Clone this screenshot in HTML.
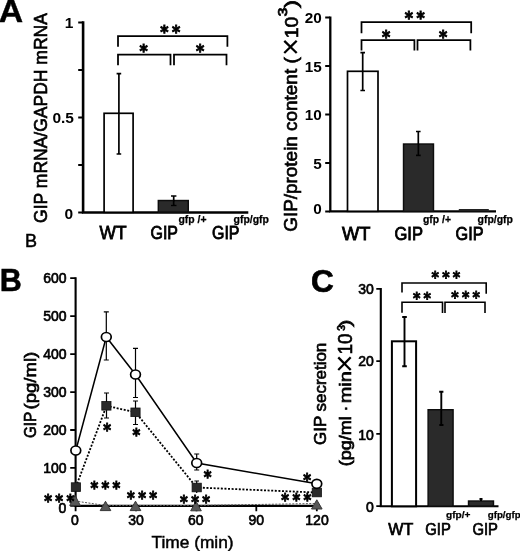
<!DOCTYPE html>
<html>
<head>
<meta charset="utf-8">
<title>GIP figure</title>
<style>
html,body{margin:0;padding:0;background:#fff;}
svg{display:block;}
#fig{filter:url(#soft);}
text{font-family:"Liberation Sans",sans-serif;fill:#000;}
.pl{font-weight:bold;font-size:29px;}
.tk{font-size:14px;font-weight:bold;}
.xl{font-size:17.5px;stroke:#000;stroke-width:0.8px;}
.xc{font-size:16px;stroke:#000;stroke-width:0.7px;}
.rl{stroke:#000;stroke-width:0.65px;}
.sup{font-weight:bold;font-size:10.5px;stroke:#000;stroke-width:0.25px;}
.st{font-family:"DejaVu Sans",sans-serif;font-weight:bold;font-size:17.5px;letter-spacing:3.96px;stroke:#000;stroke-width:0.9px;}
.ax{stroke:#000;stroke-width:2.6;fill:none;}
.tkm{stroke:#000;stroke-width:2.0;fill:none;}
.br{stroke:#000;stroke-width:1.75;fill:none;}
.eb{stroke:#000;stroke-width:1.7;fill:none;}
.wb{fill:#fff;stroke:#000;stroke-width:1.7;}
.db{fill:#2b2b2b;stroke:#0a0a0a;stroke-width:1.4;}
#pA2 .ax{stroke-width:2.3;}
#pB .ax,#pC .ax{stroke-width:2.1;}
#pB .tkm,#pC .tkm{stroke-width:1.8;}
#pB .eb{stroke-width:1.2;}
#pC .eb{stroke-width:1.9;}
#pC .wb{stroke-width:2;}
#pC .br{stroke-width:1.6;}
#pB .tk,#pC .tk{font-weight:normal;stroke:#000;stroke-width:0.65px;}
#pB .rl,#pC .rl{stroke-width:0.65px;}
</style>
</head>
<body>
<svg width="520" height="551" viewBox="0 0 520 551">
<defs><filter id="soft" x="0" y="0" width="520" height="551" filterUnits="userSpaceOnUse"><feGaussianBlur stdDeviation="0.3"/></filter></defs>
<rect width="520" height="551" fill="#fff"/>
<g id="fig">
<rect x="-5" y="-5" width="530" height="561" fill="#fff"/>

<g id="pA1">
<text class="pl" x="-1.3" y="21.9" style="font-size:32px" stroke="#000" stroke-width="0.4" textLength="24.4" lengthAdjust="spacingAndGlyphs">A</text>
<text class="rl" transform="translate(47.2,222.9) rotate(-90)" style="font-size:18px" textLength="209.8" lengthAdjust="spacingAndGlyphs">GIP mRNA/GAPDH mRNA</text>
<path class="ax" d="M83.1 21.3V212.5H248.3"/>
<path class="tkm" d="M78.2 22.5H83M78.2 70H83M78.2 117.4H83M78.2 164.9H83M78.2 212.4H83"/>
<text class="tk" x="73.3" y="28.3" text-anchor="end" style="font-size:15.5px">1</text>
<text class="tk" x="74" y="122.8" text-anchor="end" style="font-size:15.5px">0.5</text>
<text class="tk" x="73" y="218.9" text-anchor="end" style="font-size:15.5px">0</text>
<rect class="wb" x="104.1" y="113.3" width="29" height="99"/>
<path class="eb" d="M118.9 73.7V154M116.6 73.7H121.2M116.6 154H121.2"/>
<rect class="db" x="158.3" y="200.5" width="30" height="11.5"/>
<path class="eb" d="M173.7 196V205.5M171 196H176.4M171 205.5H176.4"/>
<path class="br" d="M118 46.8V36H227.4V46.8"/>
<path class="br" d="M118 65.3V54.6H170.5V65.3"/>
<path class="br" d="M174 65.3V54.6H226.5V65.3"/>
<text class="st" transform="translate(160.28,38.17) scale(0.9,1.05)">**</text>
<text class="st" transform="translate(139.38,56.77) scale(0.9,1.05)">*</text>
<text class="st" transform="translate(195.88,56.77) scale(0.9,1.05)">*</text>
<text class="xl" x="99.5" y="239" textLength="27" lengthAdjust="spacingAndGlyphs">WT</text>
<text class="xl" x="150.5" y="239" textLength="27.5" lengthAdjust="spacingAndGlyphs">GIP</text>
<text class="sup" x="178.5" y="223" textLength="28" lengthAdjust="spacingAndGlyphs">gfp /+</text>
<text class="xl" x="212" y="239" textLength="27.5" lengthAdjust="spacingAndGlyphs">GIP</text>
<text class="sup" x="233.5" y="223" textLength="35.5" lengthAdjust="spacingAndGlyphs">gfp/gfp</text>
<text x="25" y="247" style="font-size:18px" stroke="#000" stroke-width="0.5">B</text>
</g>
<g id="pA2">
<g transform="translate(297.2,231.8) rotate(-90)">
<text class="rl" x="0" y="0" style="font-size:18px" textLength="174.5" lengthAdjust="spacingAndGlyphs">GIP/protein content (</text>
<text x="175.8" y="3.9" style="font-size:31px">×</text>
<text class="rl" x="193.6" y="0.8" style="font-size:19px" textLength="21.5" lengthAdjust="spacingAndGlyphs">10</text>
<text class="rl" x="215.6" y="-4.7" style="font-size:23px" textLength="8.6" lengthAdjust="spacingAndGlyphs">³</text>
<text class="rl" x="223.6" y="0" style="font-size:18px" textLength="8.5" lengthAdjust="spacingAndGlyphs">)</text>
</g>
<path class="ax" d="M330.3 16.6V211.4H496"/>
<path class="tkm" d="M325.2 17.5H330M325.2 66H330M325.2 114.5H330M325.2 163H330M325.2 211.4H330"/>
<text class="tk" x="321.7" y="23" text-anchor="end" style="font-size:15.3px">20</text>
<text class="tk" x="321.7" y="71.5" text-anchor="end" style="font-size:15.3px">15</text>
<text class="tk" x="321.7" y="120" text-anchor="end" style="font-size:15.3px">10</text>
<text class="tk" x="321.7" y="168.5" text-anchor="end" style="font-size:15.3px">5</text>
<text class="tk" x="321.7" y="214.3" text-anchor="end" style="font-size:15.3px">0</text>
<rect class="wb" x="347.5" y="71.3" width="30.5" height="140"/>
<path class="eb" d="M362.7 52.7V90.5M360.4 52.7H365M360.4 90.5H365"/>
<rect class="db" x="403.5" y="144" width="30" height="67.4"/>
<path class="eb" d="M418.3 131.5V155.3M416 131.5H420.6M416 155.3H420.6"/>
<rect x="458.8" y="209" width="30" height="2.5" fill="#222"/>
<path class="br" d="M361.5 33.2V22.2H471.2V33.2"/>
<path class="br" d="M361.5 50.5V40H414.4V50.5"/>
<path class="br" d="M417.5 50.5V40H470.4V50.5"/>
<text class="st" transform="translate(404.78,23.97) scale(0.9,1.05)">**</text>
<text class="st" transform="translate(382.08,42.57) scale(0.9,1.05)">*</text>
<text class="st" transform="translate(438.88,42.57) scale(0.9,1.05)">*</text>
<text class="xl" x="342" y="240" textLength="28.5" lengthAdjust="spacingAndGlyphs">WT</text>
<text class="xl" x="394.5" y="240" textLength="28.5" lengthAdjust="spacingAndGlyphs">GIP</text>
<text class="sup" x="423" y="223" textLength="28" lengthAdjust="spacingAndGlyphs">gfp /+</text>
<text class="xl" x="455.5" y="240" textLength="28" lengthAdjust="spacingAndGlyphs">GIP</text>
<text class="sup" x="477.5" y="223" textLength="35.5" lengthAdjust="spacingAndGlyphs">gfp/gfp</text>
</g>
<g id="pB">
<text class="pl" x="-0.2" y="291.4" style="font-size:30.5px" stroke="#000" stroke-width="0.5">B</text>
<g transform="translate(35.5,437.7) rotate(-90)">
<text class="rl" x="-0.4" y="0" style="font-size:16.5px" textLength="26.3" lengthAdjust="spacingAndGlyphs">GIP</text>
<text class="rl" x="28.3" y="0" style="font-size:16.5px" textLength="57.6" lengthAdjust="spacingAndGlyphs">(pg/ml)</text>
</g>
<path class="ax" d="M75.6 277.3V505.9H317.7"/>
<path class="tkm" d="M70.2 278.2H75.5M70.2 316.1H75.5M70.2 354.1H75.5M70.2 392.1H75.5M70.2 430.0H75.5M70.2 467.9H75.5M70.2 505.9H75.5"/>
<path class="tkm" d="M75.6 506V511.3M136 506V511.3M196.5 506V511.3M256.3 506V511.3M316.8 506V511.3"/>
<text class="tk" x="66.5" y="282.9" text-anchor="end">600</text>
<text class="tk" x="66.5" y="320.8" text-anchor="end">500</text>
<text class="tk" x="66.5" y="358.8" text-anchor="end">400</text>
<text class="tk" x="66.5" y="396.8" text-anchor="end">300</text>
<text class="tk" x="66.5" y="434.7" text-anchor="end">200</text>
<text class="tk" x="66.5" y="472.6" text-anchor="end">100</text>
<text class="tk" x="66.3" y="512.5" text-anchor="end">0</text>
<text class="tk" x="75" y="525.3" text-anchor="middle">0</text>
<text class="tk" x="136" y="525.3" text-anchor="middle">30</text>
<text class="tk" x="195.7" y="525.3" text-anchor="middle">60</text>
<text class="tk" x="256.3" y="525.3" text-anchor="middle">90</text>
<text class="tk" x="317" y="525.3" text-anchor="middle">120</text>
<text x="151.6" y="547.5" style="font-size:16px" stroke="#000" stroke-width="0.45" textLength="82" lengthAdjust="spacingAndGlyphs">Time (min)</text>
<path class="eb" d="M106.3 311.8V360M103.8 311.8H108.8M103.8 360H108.8"/>
<path class="eb" d="M135.5 348.3V397.5M133.0 348.3H138.0M133.0 397.5H138.0"/>
<path class="eb" d="M196.7 454V470M194.2 454H199.2M194.2 470H199.2"/>
<path class="eb" d="M106.5 393V418M104.0 393H109.0M104.0 418H109.0"/>
<path class="eb" d="M135.5 401V424.5M133.0 401H138.0M133.0 424.5H138.0"/>
<path class="eb" d="M196.7 481V493M194.39999999999998 481H199.0"/>
<polyline points="75.8,450.5 106.3,337 135.5,374.5 196.7,463 316.8,483.8" fill="none" stroke="#000" stroke-width="1.5"/>
<polyline points="75.9,487 106.5,405.8 135.5,412.3 196.7,487.5 316.8,492.5" fill="none" stroke="#000" stroke-width="1.8" stroke-dasharray="2 1.6"/>
<polyline points="75,501 105.5,505.5 136,505.5 196,505.5 316.8,503.5" fill="none" stroke="#555" stroke-width="1" stroke-dasharray="2 1.4"/>
<g fill="#585858" stroke="#363636" stroke-width="1">
<path d="M75 495.2L80.3 505.5H69.7Z"/>
<path d="M105.5 501.3L110.8 510.6H100.2Z"/>
<path d="M135.5 501.2L140.8 510.6H130.2Z"/>
<path d="M196 501.2L201.3 510.8H190.7Z"/>
<path d="M316.8 499.8L322.1 509H311.5Z"/>
</g>
<g fill="#2b2b2b" stroke="#111" stroke-width="0.8">
<rect x="71.3" y="482.8" width="9.2" height="8.6"/>
<rect x="101.8" y="401.5" width="9.2" height="8.6"/>
<rect x="130.9" y="408.0" width="9.2" height="8.6"/>
<rect x="192.1" y="483.2" width="9.2" height="8.6"/>
<rect x="312.2" y="488.2" width="9.2" height="8.6"/>
</g>
<g fill="#fff" stroke="#000" stroke-width="1.7">
<ellipse cx="75.8" cy="450.5" rx="4.9" ry="4.5"/>
<ellipse cx="106.3" cy="337" rx="4.9" ry="4.5"/>
<ellipse cx="135.5" cy="374.5" rx="4.9" ry="4.5"/>
<ellipse cx="196.7" cy="463" rx="4.9" ry="4.5"/>
<ellipse cx="316.8" cy="483.8" rx="4.9" ry="4.5"/>
</g>
<text class="st" transform="translate(103.13,435.51) scale(0.846,0.987)">*</text>
<text class="st" transform="translate(132.43,440.71) scale(0.846,0.987)">*</text>
<text class="st" transform="translate(203.63,483.21) scale(0.846,0.987)">*</text>
<text class="st" transform="translate(303.13,486.21) scale(0.846,0.987)">*</text>
<text class="st" transform="translate(44.24,506.51) scale(0.846,0.987)">***</text>
<text class="st" transform="translate(90.44,494.21) scale(0.846,0.987)">***</text>
<text class="st" transform="translate(127.04,503.91) scale(0.846,0.987)">***</text>
<text class="st" transform="translate(180.04,507.71) scale(0.846,0.987)">***</text>
<text class="st" transform="translate(281.34,505.71) scale(0.846,0.987)">***</text>
</g>
<g id="pC">
<text class="pl" x="311" y="292" style="font-size:31.5px" stroke="#000" stroke-width="0.7">C</text>
<text class="rl" transform="translate(326.3,445) rotate(-90)" style="font-size:16.5px" textLength="102.3" lengthAdjust="spacingAndGlyphs">GIP secretion</text>
<g transform="translate(350.9,466.3) rotate(-90)">
<text class="rl" x="0" y="0" style="font-size:16px" textLength="50" lengthAdjust="spacingAndGlyphs">(pg/ml</text>
<text class="rl" x="55" y="0" style="font-size:16px">·</text>
<text class="rl" x="63" y="0" style="font-size:16px" textLength="32" lengthAdjust="spacingAndGlyphs">min</text>
<text x="93.4" y="4.2" style="font-size:32px">×</text>
<text class="rl" x="111.8" y="1.4" style="font-size:21px" textLength="21" lengthAdjust="spacingAndGlyphs">10</text>
<text class="rl" x="135.5" y="-1.2" style="font-size:17px">³</text>
<text class="rl" x="139.3" y="0" style="font-size:16px" textLength="7.5" lengthAdjust="spacingAndGlyphs">)</text>
</g>
<path class="ax" d="M380.8 288V506.2H498.5"/>
<path class="tkm" d="M376.3 288.8H380.8M376.3 361.2H380.8M376.3 433.8H380.8M376.3 506.2H380.8"/>
<text class="tk" x="373.8" y="294" text-anchor="end">30</text>
<text class="tk" x="373.8" y="366.3" text-anchor="end">20</text>
<text class="tk" x="373.8" y="439.5" text-anchor="end">10</text>
<text class="tk" x="373.8" y="512.3" text-anchor="end">0</text>
<rect class="wb" x="391.9" y="341.3" width="24.2" height="165"/>
<path class="eb" d="M404.5 317V366.3M402.2 317H406.8M402.2 366.3H406.8"/>
<rect class="db" x="428.1" y="409.7" width="25" height="96.5"/>
<path class="eb" d="M441.3 391.8V425M439.2 391.8H443.4M439.2 425H443.4"/>
<rect class="db" x="468.5" y="501" width="25" height="5"/>
<path class="eb" d="M481 499V501M479.5 499H482.5"/>
<path class="br" d="M402 292.5V283H486.2V293.8"/>
<path class="br" d="M402 312.7V302.3H442.5V313"/>
<path class="br" d="M445 313V302.3H485V313"/>
<text class="st" transform="translate(431.57,283.33) scale(0.810,0.945)">***</text>
<text class="st" transform="translate(412.98,304.03) scale(0.810,0.945)">**</text>
<text class="st" transform="translate(451.27,302.83) scale(0.810,0.945)">***</text>
<text class="xc" x="388.3" y="534.5" textLength="25" lengthAdjust="spacingAndGlyphs">WT</text>
<text class="xc" x="425.3" y="534.5" textLength="25.5" lengthAdjust="spacingAndGlyphs">GIP</text>
<text class="sup" x="446" y="518.3" style="font-size:9.5px" textLength="24.5" lengthAdjust="spacingAndGlyphs">gfp/+</text>
<text class="xc" x="472.4" y="534.5" textLength="25.5" lengthAdjust="spacingAndGlyphs">GIP</text>
<text class="sup" x="487.7" y="518.3" style="font-size:9.5px" textLength="33" lengthAdjust="spacingAndGlyphs">gfp/gfp</text>
</g>
</g>
</svg>
</body>
</html>
